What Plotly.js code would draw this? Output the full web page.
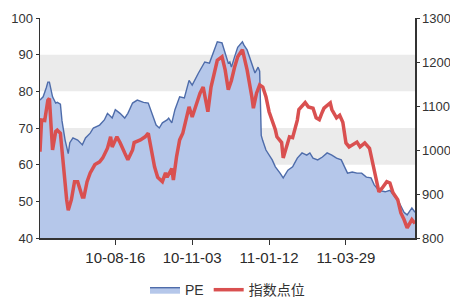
<!DOCTYPE html>
<html>
<head>
<meta charset="utf-8">
<script src="https://cdn.plot.ly/plotly-3.0.1.min.js"></script>
<style>html,body{margin:0;padding:0;background:#fff;}#chart{width:450px;height:300px;}</style>
</head>
<body>
<div id="chart"></div>
<script>
// trading-day index (0 = first day shown) and values
const tickDays = [48, 97, 146, 195];
const tickLabels = ['10-08-16', '10-11-03', '11-01-12', '11-03-29'];

const peDay = [0,2,4,5,6,8,10,11,13,14,16,18,19,21,24,27,29,32,34,38,41,43,46,48,51,54,56,59,62,66,69,72,74,76,78,81,82,84,86,89,92,95,97,101,103,105,108,111,113,116,118,120,121,122,124,126,129,130,132,135,137,138,139,140,141,142,144,148,150,153,155,158,161,164,167,170,172,174,177,180,183,186,189,192,194,196,199,202,205,208,211,213,216,220,223,226,229,232,234,237,239];
const peVal = [77.6,78.5,81,82.5,82.5,78.5,76.8,77,76.5,72,66.7,63,66,67.3,66.7,65.4,67.3,68.6,70,70.8,72.2,74,72.7,75,74,72.7,74,76.8,77.6,77,76.8,73,70.8,70,71.4,72.2,72.7,71.4,75,78.5,78.2,83,81.7,85,86.6,88,87.7,91.3,93.5,93.2,90.4,87.7,88,86.6,89.4,92,93.5,92.6,91.3,87.7,85,85.8,86.6,85.5,68,66.5,64,61.3,59.4,57.7,56.4,58.5,59.4,61.8,63.2,62.6,63.2,61.8,61.3,62.1,63.2,62.6,61.8,61.3,59.4,57.7,58,57.7,57.7,56.6,56.4,54.5,53,52.6,53,51.2,49.6,47,46.3,48.2,47];

const idxDay = [0,1,3,5,6,8,10,11,13,15,16,17,18,20,22,24,27,28,30,32,35,38,40,43,45,46,49,51,54,56,59,60,64,67,69,71,73,75,78,80,81,84,85,87,89,91,94,95,97,100,102,104,107,109,111,113,116,118,120,122,124,126,129,130,132,135,136,138,140,142,144,146,148,150,151,154,155,157,159,161,164,165,169,171,174,176,178,180,181,185,186,189,191,193,195,197,199,202,204,207,210,212,214,216,218,221,223,225,228,230,232,234,237,239];
const idxVal = [996,1068,1067,1113,1117,1000,1042,1045,1038,962,908,887,863,887,928,928,893,893,928,948,967,973,982,1004,1030,1007,1030,1017,993,978,1000,1017,1023,1030,1038,1000,962,938,928,948,938,958,932,984,1023,1038,1083,1098,1075,1107,1129,1143,1087,1143,1175,1204,1212,1182,1137,1158,1188,1212,1228,1212,1182,1121,1095,1129,1148,1143,1121,1087,1068,1046,1030,1017,982,1004,1030,1028,1068,1092,1108,1098,1095,1073,1069,1087,1095,1107,1092,1073,1079,1063,1016,1007,1012,1018,1007,1016,1004,970,932,905,913,928,925,903,887,857,842,823,842,833];

const font = 'Liberation Sans, Arial, "Noto Sans CJK SC", sans-serif';

const traces = [
  {
    x: peDay, y: peVal, name: 'PE', type: 'scatter', mode: 'lines',
    fill: 'tozeroy', fillcolor: 'rgb(181,199,234)',
    line: {color: 'rgb(78,108,170)', width: 1.4}
  },
  {
    x: idxDay, y: idxVal, name: '指数点位', type: 'scatter', mode: 'lines', yaxis: 'y2',
    line: {color: 'rgb(217,80,80)', width: 3.5}
  }
];

const layout = {
  width: 450, height: 300,
  margin: {l: 40, r: 35, t: 18, b: 62},
  paper_bgcolor: '#fff', plot_bgcolor: '#fff',
  font: {family: font, size: 13, color: '#333'},
  showlegend: true,
  legend: {orientation: 'h', x: 0.5, xanchor: 'center', xref: 'paper',
           yref: 'container', y: 0.033, yanchor: 'middle',
           font: {family: font, size: 14, color: '#333'}},
  xaxis: {
    range: [0, 239], tickvals: tickDays, ticktext: tickLabels,
    tickfont: {family: font, size: 15, color: '#2a2a2a'},
    showline: true, linecolor: '#333', linewidth: 1.5, mirror: false,
    ticks: 'outside', ticklen: 5, tickcolor: '#333',
    showgrid: false, zeroline: false, fixedrange: true
  },
  yaxis: {
    range: [40, 100], dtick: 10,
    tickfont: {family: font, size: 13, color: '#333'},
    showline: true, linecolor: '#333', linewidth: 1.5,
    ticks: 'outside', ticklen: 3, tickcolor: '#333',
    showgrid: false, zeroline: false
  },
  yaxis2: {
    range: [800, 1300], dtick: 100, overlaying: 'y', side: 'right',
    tickfont: {family: font, size: 13, color: '#333'},
    showline: true, linecolor: '#333', linewidth: 1.5,
    ticks: 'outside', ticklen: 3, tickcolor: '#333',
    showgrid: false, zeroline: false
  },
  shapes: [
    {type: 'rect', xref: 'paper', yref: 'y', x0: 0, x1: 1, y0: 80, y1: 90,
     fillcolor: '#ebebeb', line: {width: 0}, layer: 'below'},
    {type: 'rect', xref: 'paper', yref: 'y', x0: 0, x1: 1, y0: 60, y1: 70,
     fillcolor: '#ebebeb', line: {width: 0}, layer: 'below'}
  ]
};

Plotly.newPlot('chart', traces, layout, {displayModeBar: false, staticPlot: true});
</script>
</body>
</html>
